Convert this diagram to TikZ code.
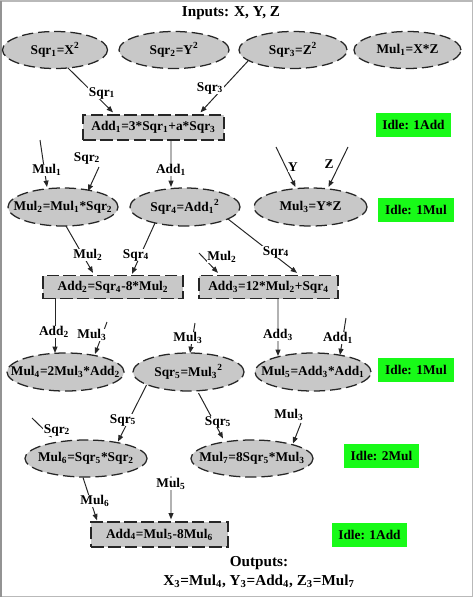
\documentclass[tikz,border=0pt]{standalone}
\usepackage{fontspec}
\setmainfont{Liberation Serif}
\usetikzlibrary{calc,shapes.geometric,arrows.meta}
\definecolor{opgray}{RGB}{200,200,200}
\definecolor{idlegreen}{RGB}{24,250,24}
\def\ix#1{\textsubscript{#1}}
\def\pw#1{\textsuperscript{#1}}
\def\ctr#1{\makebox[0pt]{#1}}
\tikzset{
	opell/.style={ellipse, draw=black!85, fill=opgray, line width=0.9pt, dash pattern=on 8pt off 3.5pt, minimum width=2.75cm, minimum height=0.95cm, inner sep=0pt, font=\fontsize{9.5}{11}\selectfont\bfseries},
	opbox/.style={rectangle, draw=black!85, fill=opgray, line width=0.9pt, dash pattern=on 9pt off 3pt, minimum width=3.5cm, minimum height=0.6cm, inner sep=0pt, font=\fontsize{9.5}{11}\selectfont\bfseries},
	idle/.style={rectangle, fill=idlegreen, minimum width=1.875cm, minimum height=0.6cm, inner sep=0pt, font=\fontsize{9.5}{11}\selectfont\bfseries},
	lbl/.style={fill=white, inner sep=0.3pt, font=\fontsize{9.5}{11}\selectfont\bfseries},
	ttl/.style={inner sep=0pt, font=\fontsize{10.8}{13}\selectfont\bfseries},
	arr/.style={-{Triangle[length=4.5pt,width=3.5pt]}, line width=0.7pt, black!85},
}

\begin{document}
\begin{tikzpicture}[x=0.025cm, y=-0.025cm]
		%%%%% START %%%%%
		\useasboundingbox (0,0) rectangle (474,598);
		\draw[gray!55, line width=1.2pt] (1,1) rectangle (472.5,596.5);
		\draw[gray!85, line width=1.4pt] (1,1) -- (1,597);
		
		\node[ttl] (inputs) at (231,13) {Inputs: X, Y, Z};
		
		% step 1
		\node[opell, minimum width=2.625cm, minimum height=0.925cm] (sqr1) at (55,50) {\ctr{Sqr\ix1=X\pw2}};
		\node[opell, minimum width=2.75cm, minimum height=0.925cm] (sqr2) at (174,50) {\ctr{Sqr\ix2=Y\pw2}};
		\node[opell, minimum width=2.7cm, minimum height=0.925cm] (sqr3) at (293,50) {\ctr{Sqr\ix3=Z\pw2}};
		\node[opell, minimum width=2.675cm, minimum height=0.925cm] (mul1) at (407.5,50) {\ctr{Mul\ix1=X*Z}};
		
		% step 2
		\node[opbox, minimum width=3.525cm, minimum height=0.625cm] (add1) at (153.5,127.5) {Add\ix1=3*Sqr\ix1+a*Sqr\ix3};
		\node[idle] (idle1) at (413.5,125) {Idle: 1Add};
		
		% step 3
		\node[opell] (mul2) at (63,207) {\ctr{Mul\ix2=Mul\ix1*Sqr\ix2}};
		\node[opell] (sqr4) at (185,207) {\ctr{Sqr\ix4=Add\ix1\pw2}};
		\node[opell, minimum width=2.825cm] (mul3) at (310.5,207) {\ctr{Mul\ix3=Y*Z}};
		\node[idle] (idle2) at (416,210) {Idle: 1Mul};
		
		% step 4
		\node[opbox, minimum height=0.575cm] (add2) at (113,287) {Add\ix2=Sqr\ix4-8*Mul\ix2};
		\node[opbox, minimum width=3.475cm, minimum height=0.575cm] (add3) at (268.5,287) {Add\ix3=12*Mul\ix2+Sqr\ix4};
		
		% step 5
		\node[opell, minimum width=2.925cm] (mul4) at (65.5,372) {\ctr{Mul\ix4=2Mul\ix3*Add\ix2}};
		\node[opell, minimum width=2.775cm] (sqr5) at (188.5,372) {\ctr{Sqr\ix5=Mul\ix3\pw2}};
		\node[opell, minimum width=2.9cm] (mul5) at (313,372) {\ctr{Mul\ix5=Add\ix3*Add\ix1}};
		\node[idle] (idle3) at (416,370) {Idle: 1Mul};
		
		% step 6
		\node[opell, minimum width=3.05cm, minimum height=0.925cm] (mul6) at (86,458.5) {\ctr{Mul\ix6=Sqr\ix5*Sqr\ix2}};
		\node[opell, minimum width=3.05cm, minimum height=0.925cm] (mul7) at (252,458.5) {\ctr{Mul\ix7=8Sqr\ix5*Mul\ix3}};
		\node[idle] (idle4) at (381.5,455.5) {Idle: 2Mul};
		
		% step 7
		\node[opbox, minimum width=3.425cm, minimum height=0.625cm] (add4) at (159.5,534.5) {Add\ix4=Mul\ix5-8Mul\ix6};
		\node[idle] (idle5) at (369.5,534.5) {Idle: 1Add};
		
		\node[ttl] (outputs) at (259,563) {Outputs:};
		\node[ttl] (results) at (259,581) {X\ix3=Mul\ix4, Y\ix3=Add\ix4, Z\ix3=Mul\ix7};
		
		% free ends of the inputs
		\coordinate (mulin1) at (40,140);
		\coordinate (sqrin2) at (99,167);
		\coordinate (yin) at (276,147);
		\coordinate (zin) at (348,147);
		\coordinate (mulin2) at (199,253);
		\coordinate (mulin3a) at (107,322);
		\coordinate (mulin3b) at (195,323);
		\coordinate (addin1) at (346,318);
		\coordinate (sqrin2b) at (32,418);
		\coordinate (mulin3c) at (301,423);
		\coordinate (mulin5) at (171,476);
		
		% connectors
		\draw[arr] ($(sqr1)+(13,18)$) -- ($(add1.north)+(-40.5,-2)$);
		\draw[arr] ($(sqr3)+(-45,11)$) -- ($(add1.north)+(47,-2)$);
		
		\draw[arr] (mulin1) -- ($(mul2)+(-16,-20)$);
		\draw[arr] (sqrin2) -- ($(mul2)+(25,-16)$);
		\draw[arr] ($(add1.south)+(17.5,0)$) -- ($(sqr4)+(-14,-20)$);
		\draw[arr] (yin) -- ($(mul3)+(-15,-20)$);
		\draw[arr] (zin) -- ($(mul3)+(18,-20)$);
		
		\draw[arr] ($(mul2)+(3,19)$) -- ($(add2.north)+(-20,-2)$);
		\draw[arr] ($(sqr4)+(-30,16)$) -- ($(add2.north)+(19,-1)$);
		\draw[arr] (mulin2) -- ($(add3.north)+(-50.5,-2)$);
		\draw[arr] ($(sqr4)+(43,12)$) -- ($(add3.north)+(28.5,-2)$);
		
		\draw[arr] ($(add2.south)+(-58,0)$) -- ($(mul4)+(-10.5,-19)$);
		\draw[arr] (mulin3a) -- ($(mul4)+(29.5,-18)$);
		\draw[arr] (mulin3b) -- ($(sqr5)+(1.5,-19)$);
		\draw[arr] ($(add3.south)+(9.5,0)$) -- ($(mul5)+(-35,-16)$);
		\draw[arr] (addin1) -- ($(mul5)+(27,-17)$);
		
		\draw[arr] (sqrin2b) -- ($(mul6)+(-34,-21)$);
		\draw[arr] ($(sqr5)+(-42,13)$) -- ($(mul6)+(32,-17)$);
		\draw[arr] ($(sqr5)+(10,21)$) -- ($(mul7)+(-29,-20)$);
		\draw[arr] (mulin3c) -- ($(mul7)+(41,-15)$);
		
		\draw[arr] ($(mul6)+(-3,19)$) -- ($(add4.north)+(-62.5,-1)$);
		\draw[arr] (mulin5) -- ($(add4.north)+(11.5,-2)$);
		
		% connector labels
		\node[lbl] (lsqr1) at (102,93) {Sqr\ix1};
		\node[lbl] (lsqr3) at (210,88) {Sqr\ix3};
		\node[lbl] (lmul1) at (47,170) {Mul\ix1};
		\node[lbl] (lsqr2) at (87,158) {Sqr\ix2};
		\node[lbl] (ladd1) at (171,170) {Add\ix1};
		\node[lbl] (ly) at (293,167) {Y};
		\node[lbl] (lz) at (329,164) {Z};
		\node[lbl] (lmul2a) at (88,255) {Mul\ix2};
		\node[lbl] (lsqr4a) at (136,255) {Sqr\ix4};
		\node[lbl] (lmul2b) at (222,257) {Mul\ix2};
		\node[lbl] (lsqr4b) at (276,252) {Sqr\ix4};
		\node[lbl] (ladd2) at (54,332) {Add\ix2};
		\node[lbl] (lmul3a) at (92,335) {Mul\ix3};
		\node[lbl] (lmul3b) at (188,338) {Mul\ix3};
		\node[lbl] (ladd3) at (278,335) {Add\ix3};
		\node[lbl] (ladd1b) at (338,338) {Add\ix1};
		\node[lbl] (lsqr2b) at (57,430) {Sqr\ix2};
		\node[lbl] (lsqr5a) at (123,420) {Sqr\ix5};
		\node[lbl] (lsqr5b) at (218,422) {Sqr\ix5};
		\node[lbl] (lmul3c) at (289,415) {Mul\ix3};
		\node[lbl] (lmul6) at (95,501) {Mul\ix6};
		\node[lbl] (lmul5) at (171,484) {Mul\ix5};
		
		%%%%% END %%%%%
\end{tikzpicture}
\end{document}
